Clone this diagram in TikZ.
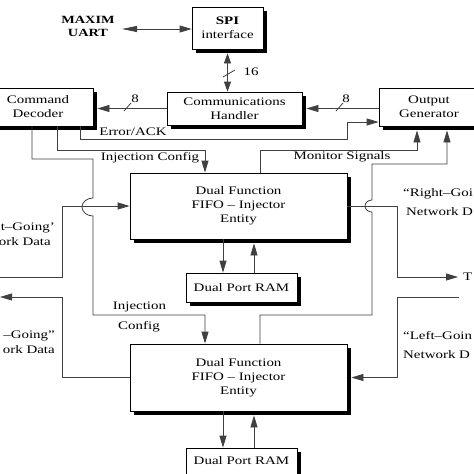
\documentclass[tikz,border=0pt]{standalone}
\usepackage{fontspec}
\setmainfont[FakeStretch=1.3]{Liberation Serif}
\usetikzlibrary{arrows.meta}
\begin{document}
\begin{tikzpicture}[x=1pt,y=-1pt,
  box/.style={draw=black, line width=0.8pt, fill=white, align=center, inner sep=0pt},
  shadowfill/.style={fill=black},
  wire/.style={draw=black!75, line width=0.8pt},
  tip/.style={-{Triangle[length=12pt,width=7pt]}},
  lbl/.style={inner sep=0pt, align=center},
  font=\fontsize{11.5}{14}\selectfont]
\fill[white] (0,0) rectangle (474,474);
\useasboundingbox (0,0) rectangle (474,474);

% boxes
\node[box, minimum width=71pt, minimum height=42pt] (spi) at (227.5,28) {\textbf{SPI}\\interface};
\node[box, minimum width=135pt, minimum height=33pt] (comm) at (234.5,108.5) {Communications\\Handler};
\node[box, minimum width=110pt, minimum height=38pt] (cmd) at (38,107) {Command\\Decoder};
\node[box, minimum width=100pt, minimum height=38pt] (out) at (429,107) {Output\\Generator};
\node[box, minimum width=217pt, minimum height=66pt] (f1) at (238.5,206) {Dual Function\\FIFO – Injector\\Entity};
\node[box, minimum width=217pt, minimum height=67pt] (f2) at (238.5,377.5) {Dual Function\\FIFO – Injector\\Entity};
\node[box, minimum width=111pt, minimum height=29pt] (r1) at (241.5,287.5) {Dual Port RAM};
\node[box, minimum width=111pt, minimum height=26pt] (r2) at (241.5,461) {Dual Port RAM};

% shadows (right and bottom strips)
\foreach \bx in {spi,comm,cmd,out,f1,f2,r1,r2}{
  \fill[shadowfill] ([shift={(0,4)}]\bx.north east) rectangle ([shift={(4,4)}]\bx.south east);
  \fill[shadowfill] ([shift={(4,0)}]\bx.south west) rectangle ([shift={(4,4)}]\bx.south east);
}

% labels
\node[lbl, font=\fontsize{11}{13}\selectfont\bfseries] (uart) at (88,26.5) {MAXIM\\UART};
\node[lbl] (l16) at (251,72) {16};
\node[lbl] (l8a) at (135,99) {8};
\node[lbl] (l8b) at (346,99) {8};
\node[lbl] (errl) at (133,132) {Error/ACK};
\node[lbl] (inj1) at (150,158) {Injection Config};
\node[lbl] (inj2a) at (139.5,307) {Injection};
\node[lbl] (inj2b) at (139,327) {Config};
\node[lbl] (mon) at (342,157) {Monitor Signals};
\node[lbl, anchor=east] (rgla) at (55,228) {t–Going’};
\node[lbl, anchor=east] (rglb) at (51,242) {ork Data};
\node[lbl, anchor=east] (lgla) at (55,336) {–Going”};
\node[lbl, anchor=east] (lglb) at (55,350) {ork Data};
\node[lbl, anchor=west] (rgra) at (403,194) {“Right–Goi};
\node[lbl, anchor=west] (rgrb) at (406,212) {Network D};
\node[lbl, anchor=west] (lgra) at (403,336) {“Left–Goin};
\node[lbl, anchor=west] (lgrb) at (403,355) {Network D};
\node[lbl, anchor=west] (tnext) at (463,277) {T};

% helper coordinates
\coordinate (ua) at (122,29);
\coordinate (e1) at (80,139);
\coordinate (e2) at (347,122);
\coordinate (i1) at (57,150);
\coordinate (i1b) at (205,150);
\coordinate (j1) at (32,159);
\coordinate (j2) at (93,159);
\coordinate (j3) at (93,315);
\coordinate (j4) at (205,315);
\coordinate (rg0) at (0,277);
\coordinate (rg1) at (62,277);
\coordinate (lg0) at (0,297);
\coordinate (lg1) at (62,297);
\coordinate (ro1) at (397,277);
\coordinate (ro2) at (458,277);
\coordinate (li0) at (459,297);
\coordinate (li1) at (397,297);
\coordinate (m1) at (260,150);
\coordinate (m2) at (417,150);
\coordinate (n1) at (260,315);
\coordinate (n2) at (372,315);
\coordinate (n3) at (372,164);
\coordinate (n4) at (447,164);
\coordinate (a1) at (223,0);
\coordinate (a2) at (254,0);

% connectors
\draw[wire, {Triangle[length=15pt,width=6pt]}-{Triangle[length=12pt,width=7pt]}] (ua) -- (spi.west |- ua);
\draw[wire, {Triangle[length=10pt,width=7pt]}-{Triangle[length=10pt,width=7pt]}, shorten <=4pt] (spi.south) -- (spi.south |- comm.north);
\draw[wire] (223,77) -- (235,70);

\draw[wire, tip, shorten >=4pt] (comm.west) -- (comm.west -| cmd.east);
\draw[wire] (124,111) -- (131,103);
\draw[wire, tip, shorten >=4pt] (out.west |- comm.east) -- (comm.east);
\draw[wire] (336,111) -- (343,103);

\draw[wire, tip] (cmd.south -| e1) -- (e1) -- (e2 |- e1) -- (e2) -- (e2 -| out.west);
\draw[wire, tip] (cmd.south -| i1) -- (i1) -- (i1b) -- (i1b |- f1.north);
\draw[wire, tip] (cmd.south -| j1) -- (j1) -- (j2) -- (93,198)
  arc[start angle=270, end angle=90, x radius=11, y radius=9] -- (j3) -- (j4) -- (j4 |- f2.north);

\draw[wire, tip] (rg0) -- (rg1) -- (rg1 |- f1.west) -- (f1.west);
\draw[wire, tip] (f2.west) -- (f2.west -| lg1) -- (lg1) -- (lg0);
\draw[wire, tip] (f1.east) -- (f1.east -| ro1) -- (ro1) -- (ro2);
\draw[wire, tip, shorten >=4pt] (li0) -- (li1) -- (li1 |- f2.east) -- (f2.east);

\draw[wire, tip, shorten >=4pt] (f1.north -| m1) -- (m1) -- (m2) -- (m2 |- out.south);
\draw[wire, tip, shorten >=4pt] (f2.north -| n1) -- (n1) -- (n2) -- (372,212)
  arc[start angle=90, end angle=270, x radius=7, y radius=6] -- (n3) -- (n4) -- (n4 |- out.south);

\draw[wire, tip] (f1.south -| a1) -- (r1.north -| a1);
\draw[wire, tip, shorten >=4pt] (r1.north -| a2) -- (f1.south -| a2);
\draw[wire, tip] (f2.south -| a1) -- (r2.north -| a1);
\draw[wire, tip, shorten >=4pt] (r2.north -| a2) -- (f2.south -| a2);
\end{tikzpicture}
\end{document}
